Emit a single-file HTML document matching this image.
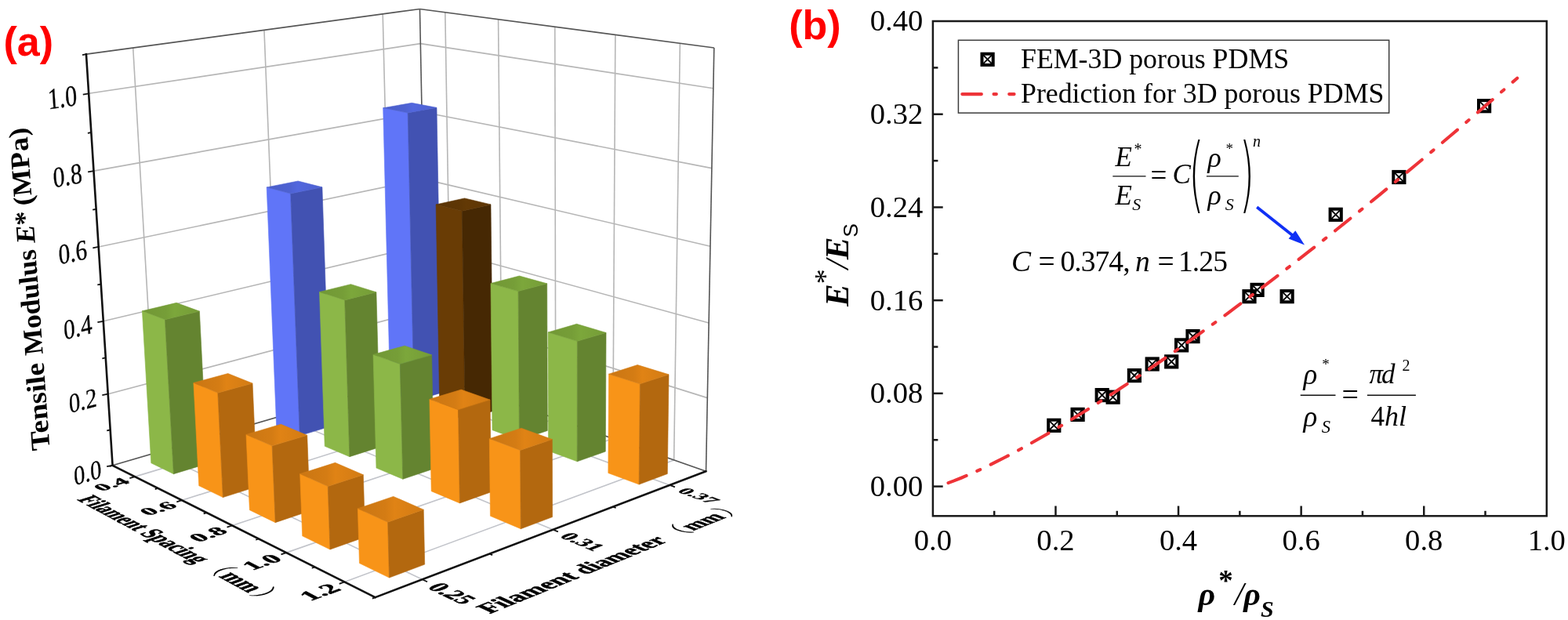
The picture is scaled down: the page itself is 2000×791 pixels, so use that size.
<!DOCTYPE html>
<html lang="en"><head><meta charset="utf-8"><title>Figure</title>
<style>
html,body{margin:0;padding:0;background:#fff;}
body{width:2000px;height:791px;overflow:hidden;}
svg{display:block;}
text{white-space:pre;}
</style></head><body>
<svg width="2000" height="791" viewBox="0 0 2000 791">
<rect width="2000" height="791" fill="#fff"/>
<defs><linearGradient id="g0" gradientUnits="userSpaceOnUse" x1="488.68" y1="0" x2="556.99" y2="0"><stop offset="0" stop-color="#4a5ec9"/><stop offset="0.42" stop-color="#4e62d2"/><stop offset="0.56" stop-color="#5267de"/><stop offset="1" stop-color="#4d61d0"/></linearGradient><linearGradient id="g1" gradientUnits="userSpaceOnUse" x1="556.11" y1="0" x2="625.98" y2="0"><stop offset="0" stop-color="#5a3405"/><stop offset="0.42" stop-color="#5e3605"/><stop offset="0.56" stop-color="#633905"/><stop offset="1" stop-color="#5d3505"/></linearGradient><linearGradient id="g2" gradientUnits="userSpaceOnUse" x1="340.16" y1="0" x2="410.91" y2="0"><stop offset="0" stop-color="#4a5ec9"/><stop offset="0.42" stop-color="#4e62d2"/><stop offset="0.56" stop-color="#5267de"/><stop offset="1" stop-color="#4d61d0"/></linearGradient><linearGradient id="g3" gradientUnits="userSpaceOnUse" x1="625.98" y1="0" x2="697.68" y2="0"><stop offset="0" stop-color="#719735"/><stop offset="0.42" stop-color="#769e38"/><stop offset="0.56" stop-color="#7ca73b"/><stop offset="1" stop-color="#759c37"/></linearGradient><linearGradient id="g4" gradientUnits="userSpaceOnUse" x1="407.51" y1="0" x2="479.91" y2="0"><stop offset="0" stop-color="#719735"/><stop offset="0.42" stop-color="#769e38"/><stop offset="0.56" stop-color="#7ca73b"/><stop offset="1" stop-color="#759c37"/></linearGradient><linearGradient id="g5" gradientUnits="userSpaceOnUse" x1="699.05" y1="0" x2="773.04" y2="0"><stop offset="0" stop-color="#719735"/><stop offset="0.42" stop-color="#769e38"/><stop offset="0.56" stop-color="#7ca73b"/><stop offset="1" stop-color="#759c37"/></linearGradient><linearGradient id="g6" gradientUnits="userSpaceOnUse" x1="181.4" y1="0" x2="254.4" y2="0"><stop offset="0" stop-color="#719735"/><stop offset="0.42" stop-color="#769e38"/><stop offset="0.56" stop-color="#7ca73b"/><stop offset="1" stop-color="#759c37"/></linearGradient><linearGradient id="g7" gradientUnits="userSpaceOnUse" x1="476.05" y1="0" x2="550.65" y2="0"><stop offset="0" stop-color="#719735"/><stop offset="0.42" stop-color="#769e38"/><stop offset="0.56" stop-color="#7ca73b"/><stop offset="1" stop-color="#759c37"/></linearGradient><linearGradient id="g8" gradientUnits="userSpaceOnUse" x1="776.5" y1="0" x2="853.02" y2="0"><stop offset="0" stop-color="#ca7613"/><stop offset="0.42" stop-color="#d47c14"/><stop offset="0.56" stop-color="#e08315"/><stop offset="1" stop-color="#d27b14"/></linearGradient><linearGradient id="g9" gradientUnits="userSpaceOnUse" x1="246.89" y1="0" x2="322.05" y2="0"><stop offset="0" stop-color="#ca7613"/><stop offset="0.42" stop-color="#d47c14"/><stop offset="0.56" stop-color="#e08315"/><stop offset="1" stop-color="#d27b14"/></linearGradient><linearGradient id="g10" gradientUnits="userSpaceOnUse" x1="547.92" y1="0" x2="625.09" y2="0"><stop offset="0" stop-color="#ca7613"/><stop offset="0.42" stop-color="#d47c14"/><stop offset="0.56" stop-color="#e08315"/><stop offset="1" stop-color="#d27b14"/></linearGradient><linearGradient id="g11" gradientUnits="userSpaceOnUse" x1="314.01" y1="0" x2="391.73" y2="0"><stop offset="0" stop-color="#ca7613"/><stop offset="0.42" stop-color="#d47c14"/><stop offset="0.56" stop-color="#e08315"/><stop offset="1" stop-color="#d27b14"/></linearGradient><linearGradient id="g12" gradientUnits="userSpaceOnUse" x1="624.32" y1="0" x2="704.33" y2="0"><stop offset="0" stop-color="#ca7613"/><stop offset="0.42" stop-color="#d47c14"/><stop offset="0.56" stop-color="#e08315"/><stop offset="1" stop-color="#d27b14"/></linearGradient><linearGradient id="g13" gradientUnits="userSpaceOnUse" x1="382.7" y1="0" x2="463.34" y2="0"><stop offset="0" stop-color="#ca7613"/><stop offset="0.42" stop-color="#d47c14"/><stop offset="0.56" stop-color="#e08315"/><stop offset="1" stop-color="#d27b14"/></linearGradient><linearGradient id="g14" gradientUnits="userSpaceOnUse" x1="456.39" y1="0" x2="540.24" y2="0"><stop offset="0" stop-color="#ca7613"/><stop offset="0.42" stop-color="#d47c14"/><stop offset="0.56" stop-color="#e08315"/><stop offset="1" stop-color="#d27b14"/></linearGradient></defs>
<g id="chart-a">
<line x1="199.57" y1="577.4" x2="169.7" y2="61.04" stroke="#b6b6b6" stroke-width="1.6"/>
<line x1="356.85" y1="531.3" x2="336.94" y2="38.35" stroke="#b6b6b6" stroke-width="1.6"/>
<line x1="499.84" y1="489.38" x2="488.2" y2="17.83" stroke="#b6b6b6" stroke-width="1.6"/>
<line x1="575.56" y1="487.1" x2="567.8" y2="15.69" stroke="#b6b6b6" stroke-width="1.6"/>
<line x1="640.15" y1="509.8" x2="635.57" y2="24.63" stroke="#b6b6b6" stroke-width="1.6"/>
<line x1="708.76" y1="533.92" x2="707.77" y2="34.16" stroke="#b6b6b6" stroke-width="1.6"/>
<line x1="781.77" y1="559.58" x2="784.86" y2="44.34" stroke="#b6b6b6" stroke-width="1.6"/>
<line x1="859.62" y1="586.94" x2="867.36" y2="55.23" stroke="#b6b6b6" stroke-width="1.6"/>
<line x1="137.75" y1="502.72" x2="543.05" y2="395.08" stroke="#b6b6b6" stroke-width="1.6"/>
<line x1="543.05" y1="395.08" x2="902.3" y2="507.62" stroke="#b6b6b6" stroke-width="1.6"/>
<line x1="131.79" y1="409.78" x2="541.42" y2="312.47" stroke="#b6b6b6" stroke-width="1.6"/>
<line x1="541.42" y1="312.47" x2="904.13" y2="411.98" stroke="#b6b6b6" stroke-width="1.6"/>
<line x1="125.71" y1="314.94" x2="539.75" y2="228.38" stroke="#b6b6b6" stroke-width="1.6"/>
<line x1="539.75" y1="228.38" x2="905.99" y2="314.33" stroke="#b6b6b6" stroke-width="1.6"/>
<line x1="119.51" y1="218.15" x2="538.06" y2="142.78" stroke="#b6b6b6" stroke-width="1.6"/>
<line x1="538.06" y1="142.78" x2="907.89" y2="214.6" stroke="#b6b6b6" stroke-width="1.6"/>
<line x1="113.17" y1="119.33" x2="536.34" y2="55.6" stroke="#b6b6b6" stroke-width="1.6"/>
<line x1="536.34" y1="55.6" x2="909.84" y2="112.73" stroke="#b6b6b6" stroke-width="1.6"/>
<line x1="172.07" y1="608.13" x2="575.56" y2="487.1" stroke="#c2c4ca" stroke-width="1.6"/>
<line x1="231.98" y1="638.23" x2="640.15" y2="509.8" stroke="#c2c4ca" stroke-width="1.6"/>
<line x1="296.16" y1="670.48" x2="708.76" y2="533.92" stroke="#c2c4ca" stroke-width="1.6"/>
<line x1="365.09" y1="705.12" x2="781.77" y2="559.58" stroke="#c2c4ca" stroke-width="1.6"/>
<line x1="439.31" y1="742.42" x2="859.62" y2="586.94" stroke="#c2c4ca" stroke-width="1.6"/>
<line x1="199.57" y1="577.4" x2="538.67" y2="739.26" stroke="#c2c4ca" stroke-width="1.6"/>
<line x1="356.85" y1="531.3" x2="705.37" y2="675.71" stroke="#c2c4ca" stroke-width="1.6"/>
<line x1="499.84" y1="489.38" x2="854.32" y2="618.92" stroke="#c2c4ca" stroke-width="1.6"/>
<line x1="109.95" y1="69.15" x2="535.46" y2="11.42" stroke="#555555" stroke-width="1.6"/>
<line x1="535.46" y1="11.42" x2="910.82" y2="60.97" stroke="#555555" stroke-width="1.6"/>
<line x1="910.82" y1="60.97" x2="900.51" y2="601.31" stroke="#555555" stroke-width="1.6"/>
<line x1="535.46" y1="11.42" x2="544.66" y2="476.24" stroke="#555555" stroke-width="1.6"/>
<line x1="143.59" y1="593.81" x2="544.66" y2="476.24" stroke="#555555" stroke-width="1.6"/>
<line x1="544.66" y1="476.24" x2="900.51" y2="601.31" stroke="#555555" stroke-width="1.6"/>
<polygon points="497.73,500.3 528.19,511.6 520.23,143.93 488.68,137.73" fill="#6075F8" stroke="#6075F8" stroke-width="0.6" stroke-linejoin="round"/>
<polygon points="528.19,511.6 563.46,500.9 556.99,137.34 520.23,143.93" fill="#4252B2" stroke="#4252B2" stroke-width="0.6" stroke-linejoin="round"/>
<polygon points="488.68,137.73 520.23,143.93 556.99,137.34 525.28,131.31" fill="url(#g0)" stroke="#4E62D2" stroke-width="0.6" stroke-linejoin="round"/>
<polygon points="560.87,523.73 593.25,535.74 589.35,269.22 556.11,260.97" fill="#693C05" stroke="#693C05" stroke-width="0.6" stroke-linejoin="round"/>
<polygon points="593.25,535.74 628.8,524.42 625.98,260.92 589.35,269.22" fill="#462803" stroke="#462803" stroke-width="0.6" stroke-linejoin="round"/>
<polygon points="556.11,260.97 589.35,269.22 625.98,260.92 592.59,252.9" fill="url(#g1)" stroke="#5E3605" stroke-width="0.6" stroke-linejoin="round"/>
<polygon points="352.62,543.33 382.33,555.86 370.68,247.02 340.16,238.94" fill="#6075F8" stroke="#6075F8" stroke-width="0.6" stroke-linejoin="round"/>
<polygon points="382.33,555.86 421.12,544.09 410.91,238.83 370.68,247.02" fill="#4252B2" stroke="#4252B2" stroke-width="0.6" stroke-linejoin="round"/>
<polygon points="340.16,238.94 370.68,247.02 410.91,238.83 380.15,230.98" fill="url(#g2)" stroke="#4E62D2" stroke-width="0.6" stroke-linejoin="round"/>
<polygon points="628,548.64 662.47,561.43 661.13,371.61 625.98,361.55" fill="#8CB748" stroke="#8CB748" stroke-width="0.6" stroke-linejoin="round"/>
<polygon points="662.47,561.43 698.27,549.43 697.68,361.8 661.13,371.61" fill="#648430" stroke="#648430" stroke-width="0.6" stroke-linejoin="round"/>
<polygon points="625.98,361.55 661.13,371.61 697.68,361.8 662.41,352.02" fill="url(#g3)" stroke="#769E38" stroke-width="0.6" stroke-linejoin="round"/>
<polygon points="414.25,569.32 445.92,582.67 439.76,382.91 407.51,372.48" fill="#8CB748" stroke="#8CB748" stroke-width="0.6" stroke-linejoin="round"/>
<polygon points="445.92,582.67 485.14,570.18 479.91,372.76 439.76,382.91" fill="#648430" stroke="#648430" stroke-width="0.6" stroke-linejoin="round"/>
<polygon points="407.51,372.48 439.76,382.91 479.91,372.76 447.43,362.63" fill="url(#g4)" stroke="#769E38" stroke-width="0.6" stroke-linejoin="round"/>
<polygon points="699.51,575.18 736.27,588.82 736.43,435.33 699.05,423.95" fill="#8CB748" stroke="#8CB748" stroke-width="0.6" stroke-linejoin="round"/>
<polygon points="736.27,588.82 772.28,576.07 773.04,424.39 736.43,435.33" fill="#648430" stroke="#648430" stroke-width="0.6" stroke-linejoin="round"/>
<polygon points="699.05,423.95 736.43,435.33 773.04,424.39 735.56,413.34" fill="url(#g5)" stroke="#769E38" stroke-width="0.6" stroke-linejoin="round"/>
<polygon points="192.79,590.74 221.43,604.68 210.48,407.73 181.4,396.71" fill="#8CB748" stroke="#8CB748" stroke-width="0.6" stroke-linejoin="round"/>
<polygon points="221.43,604.68 264.29,591.68 254.4,397.07 210.48,407.73" fill="#648430" stroke="#648430" stroke-width="0.6" stroke-linejoin="round"/>
<polygon points="181.4,396.71 210.48,407.73 254.4,397.07 224.99,386.37" fill="url(#g6)" stroke="#769E38" stroke-width="0.6" stroke-linejoin="round"/>
<polygon points="479.98,597.02 513.8,611.28 510.35,464.37 476.05,452.31" fill="#8CB748" stroke="#8CB748" stroke-width="0.6" stroke-linejoin="round"/>
<polygon points="513.8,611.28 553.42,597.99 550.65,452.85 510.35,464.37" fill="#648430" stroke="#648430" stroke-width="0.6" stroke-linejoin="round"/>
<polygon points="476.05,452.31 510.35,464.37 550.65,452.85 516.15,441.14" fill="url(#g7)" stroke="#769E38" stroke-width="0.6" stroke-linejoin="round"/>
<polygon points="775.82,603.5 815.12,618.08 816.37,489.83 776.5,477.19" fill="#F89418" stroke="#F89418" stroke-width="0.6" stroke-linejoin="round"/>
<polygon points="815.12,618.08 851.29,604.5 853.02,477.81 816.37,489.83" fill="#B3680F" stroke="#B3680F" stroke-width="0.6" stroke-linejoin="round"/>
<polygon points="776.5,477.19 816.37,489.83 853.02,477.81 813.09,465.54" fill="url(#g8)" stroke="#D47C14" stroke-width="0.6" stroke-linejoin="round"/>
<polygon points="253.76,619.68 284.39,634.59 277.85,501.26 246.89,488.38" fill="#F89418" stroke="#F89418" stroke-width="0.6" stroke-linejoin="round"/>
<polygon points="284.39,634.59 327.87,620.74 322.05,489.04 277.85,501.26" fill="#B3680F" stroke="#B3680F" stroke-width="0.6" stroke-linejoin="round"/>
<polygon points="246.89,488.38 277.85,501.26 322.05,489.04 290.77,476.53" fill="url(#g9)" stroke="#D47C14" stroke-width="0.6" stroke-linejoin="round"/>
<polygon points="550.21,626.63 586.41,641.89 584.56,522.77 547.92,509.34" fill="#F89418" stroke="#F89418" stroke-width="0.6" stroke-linejoin="round"/>
<polygon points="586.41,641.89 626.4,627.73 625.09,510.08 584.56,522.77" fill="#B3680F" stroke="#B3680F" stroke-width="0.6" stroke-linejoin="round"/>
<polygon points="547.92,509.34 584.56,522.77 625.09,510.08 588.28,497.05" fill="url(#g10)" stroke="#D47C14" stroke-width="0.6" stroke-linejoin="round"/>
<polygon points="318.38,650.65 351.21,666.63 347.12,568.87 314.01,554.42" fill="#F89418" stroke="#F89418" stroke-width="0.6" stroke-linejoin="round"/>
<polygon points="351.21,666.63 395.3,651.85 391.73,555.31 347.12,568.87" fill="#B3680F" stroke="#B3680F" stroke-width="0.6" stroke-linejoin="round"/>
<polygon points="314.01,554.42 347.12,568.87 391.73,555.31 358.32,541.29" fill="url(#g11)" stroke="#D47C14" stroke-width="0.6" stroke-linejoin="round"/>
<polygon points="625.43,658.33 664.27,674.71 663.57,574.43 624.32,559.64" fill="#F89418" stroke="#F89418" stroke-width="0.6" stroke-linejoin="round"/>
<polygon points="664.27,674.71 704.58,659.58 704.33,560.57 663.57,574.43" fill="#B3680F" stroke="#B3680F" stroke-width="0.6" stroke-linejoin="round"/>
<polygon points="624.32,559.64 663.57,574.43 704.33,560.57 664.93,546.23" fill="url(#g12)" stroke="#D47C14" stroke-width="0.6" stroke-linejoin="round"/>
<polygon points="385.72,683.86 420.99,701.03 418.24,620.5 382.7,604.62" fill="#F89418" stroke="#F89418" stroke-width="0.6" stroke-linejoin="round"/>
<polygon points="420.99,701.03 465.66,685.21 463.34,605.72 418.24,620.5" fill="#B3680F" stroke="#B3680F" stroke-width="0.6" stroke-linejoin="round"/>
<polygon points="382.7,604.62 418.24,620.5 463.34,605.72 427.52,590.33" fill="url(#g13)" stroke="#D47C14" stroke-width="0.6" stroke-linejoin="round"/>
<polygon points="458.48,718.57 496.48,737.07 494.65,666.18 456.39,648.86" fill="#F89418" stroke="#F89418" stroke-width="0.6" stroke-linejoin="round"/>
<polygon points="496.48,737.07 541.69,720.1 540.24,650.15 494.65,666.18" fill="#B3680F" stroke="#B3680F" stroke-width="0.6" stroke-linejoin="round"/>
<polygon points="456.39,648.86 494.65,666.18 540.24,650.15 501.71,633.38" fill="url(#g14)" stroke="#D47C14" stroke-width="0.6" stroke-linejoin="round"/>
<line x1="143.59" y1="593.81" x2="109.95" y2="69.15" stroke="#111" stroke-width="2.6" stroke-linecap="round"/>
<line x1="143.59" y1="593.81" x2="478.6" y2="762.16" stroke="#111" stroke-width="2.6" stroke-linecap="round"/>
<line x1="478.6" y1="762.16" x2="900.51" y2="601.31" stroke="#111" stroke-width="2.6" stroke-linecap="round"/>
<line x1="143.59" y1="593.81" x2="136.21" y2="595.14" stroke="#111" stroke-width="1.8"/>
<line x1="140.68" y1="548.49" x2="136.26" y2="549.29" stroke="#111" stroke-width="1.8"/>
<line x1="137.75" y1="502.72" x2="130.37" y2="504.05" stroke="#111" stroke-width="1.8"/>
<line x1="134.79" y1="456.48" x2="130.36" y2="457.28" stroke="#111" stroke-width="1.8"/>
<line x1="131.79" y1="409.78" x2="124.41" y2="411.11" stroke="#111" stroke-width="1.8"/>
<line x1="128.77" y1="362.6" x2="124.34" y2="363.4" stroke="#111" stroke-width="1.8"/>
<line x1="125.71" y1="314.94" x2="118.33" y2="316.27" stroke="#111" stroke-width="1.8"/>
<line x1="122.62" y1="266.79" x2="118.2" y2="267.59" stroke="#111" stroke-width="1.8"/>
<line x1="119.51" y1="218.15" x2="112.12" y2="219.47" stroke="#111" stroke-width="1.8"/>
<line x1="116.35" y1="169" x2="111.93" y2="169.79" stroke="#111" stroke-width="1.8"/>
<line x1="113.17" y1="119.33" x2="105.79" y2="120.66" stroke="#111" stroke-width="1.8"/>
<line x1="109.95" y1="69.15" x2="105.03" y2="70.03" stroke="#111" stroke-width="1.8"/>
<line x1="143.59" y1="593.81" x2="139.75" y2="594.94" stroke="#111" stroke-width="1.8"/>
<line x1="172.07" y1="608.13" x2="165.37" y2="610.14" stroke="#111" stroke-width="1.8"/>
<line x1="201.52" y1="622.92" x2="197.7" y2="624.1" stroke="#111" stroke-width="1.8"/>
<line x1="231.98" y1="638.23" x2="225.31" y2="640.33" stroke="#111" stroke-width="1.8"/>
<line x1="263.51" y1="654.07" x2="259.7" y2="655.3" stroke="#111" stroke-width="1.8"/>
<line x1="296.16" y1="670.48" x2="289.52" y2="672.68" stroke="#111" stroke-width="1.8"/>
<line x1="330" y1="687.49" x2="326.21" y2="688.77" stroke="#111" stroke-width="1.8"/>
<line x1="365.09" y1="705.12" x2="358.48" y2="707.43" stroke="#111" stroke-width="1.8"/>
<line x1="401.5" y1="723.42" x2="397.74" y2="724.77" stroke="#111" stroke-width="1.8"/>
<line x1="439.31" y1="742.42" x2="432.75" y2="744.85" stroke="#111" stroke-width="1.8"/>
<line x1="478.6" y1="762.16" x2="474.87" y2="763.59" stroke="#111" stroke-width="1.8"/>
<line x1="538.67" y1="739.26" x2="544.99" y2="742.28" stroke="#111" stroke-width="1.8"/>
<line x1="624.43" y1="706.56" x2="628.09" y2="708.19" stroke="#111" stroke-width="1.8"/>
<line x1="705.37" y1="675.71" x2="711.84" y2="678.39" stroke="#111" stroke-width="1.8"/>
<line x1="781.88" y1="646.54" x2="785.61" y2="647.98" stroke="#111" stroke-width="1.8"/>
<line x1="854.32" y1="618.92" x2="860.9" y2="621.32" stroke="#111" stroke-width="1.8"/>
<text transform="translate(4.5,71.3)" font-family="'Liberation Sans','Noto Sans CJK SC',sans-serif" font-size="52" font-weight="bold" font-style="normal" text-anchor="start" fill="#FF0000">(a)</text>
<text transform="matrix(0.8023 -0.2354 0.0657 0.9716 130.1458 609.129)" font-family="'Liberation Serif','Noto Serif CJK SC',serif" font-size="35" font-weight="normal" font-style="normal" text-anchor="end" fill="#000" stroke="#000" stroke-width="0.30" stroke-linejoin="round">0.0</text>
<text transform="matrix(0.8119 -0.2159 0.0671 0.9914 124.1529 517.9115)" font-family="'Liberation Serif','Noto Serif CJK SC',serif" font-size="35" font-weight="normal" font-style="normal" text-anchor="end" fill="#000" stroke="#000" stroke-width="0.30" stroke-linejoin="round">0.2</text>
<text transform="matrix(0.8217 -0.1955 0.0684 1.0117 118.0385 424.8438)" font-family="'Liberation Serif','Noto Serif CJK SC',serif" font-size="35" font-weight="normal" font-style="normal" text-anchor="end" fill="#000" stroke="#000" stroke-width="0.30" stroke-linejoin="round">0.4</text>
<text transform="matrix(0.8317 -0.1741 0.0699 1.0327 111.7988 329.869)" font-family="'Liberation Serif','Noto Serif CJK SC',serif" font-size="35" font-weight="normal" font-style="normal" text-anchor="end" fill="#000" stroke="#000" stroke-width="0.30" stroke-linejoin="round">0.6</text>
<text transform="matrix(0.842 -0.1519 0.0713 1.0543 105.4298 232.9278)" font-family="'Liberation Serif','Noto Serif CJK SC',serif" font-size="35" font-weight="normal" font-style="normal" text-anchor="end" fill="#000" stroke="#000" stroke-width="0.30" stroke-linejoin="round">0.8</text>
<text transform="matrix(0.8526 -0.1287 0.0728 1.0767 98.9277 133.9585)" font-family="'Liberation Serif','Noto Serif CJK SC',serif" font-size="35" font-weight="normal" font-style="normal" text-anchor="end" fill="#000" stroke="#000" stroke-width="0.30" stroke-linejoin="round">1.0</text>
<text transform="matrix(-0.0713 -0.9975 0.9104 -0.112 63.5 573)" font-family="'Liberation Serif','Noto Serif CJK SC',serif" font-size="37.6" font-weight="bold" font-style="normal" text-anchor="start" fill="#000">Tensile</text>
<text transform="matrix(-0.0713 -0.9975 0.9615 -0.1183 54.8128 451.5)" font-family="'Liberation Serif','Noto Serif CJK SC',serif" font-size="35.6" font-weight="bold" font-style="normal" text-anchor="start" fill="#000">Modulus</text>
<text transform="matrix(-0.0713 -0.9975 0.9509 -0.117 44.6669 309.6)" font-family="'Liberation Serif','Noto Serif CJK SC',serif" font-size="36" font-weight="bold" font-style="normal" text-anchor="start" fill="#000"><tspan font-style="italic">E</tspan>*</text>
<text transform="matrix(-0.0713 -0.9975 0.9378 -0.1154 41.192 261)" font-family="'Liberation Serif','Noto Serif CJK SC',serif" font-size="36.5" font-weight="bold" font-style="normal" text-anchor="start" fill="#000">(MPa)</text>
<text transform="matrix(0.8689 -0.261 0.5342 0.2762 167.4858 615.4745)" font-family="'Liberation Serif','Noto Serif CJK SC',serif" font-size="35" font-weight="bold" font-style="normal" text-anchor="end" fill="#000" stroke="#000" stroke-width="0.90" stroke-linejoin="round">0.4</text>
<text transform="matrix(0.8832 -0.2783 0.572 0.2957 227.7243 646.0803)" font-family="'Liberation Serif','Noto Serif CJK SC',serif" font-size="35" font-weight="bold" font-style="normal" text-anchor="end" fill="#000" stroke="#000" stroke-width="0.90" stroke-linejoin="round">0.6</text>
<text transform="matrix(0.8973 -0.2975 0.614 0.3175 292.2952 678.8873)" font-family="'Liberation Serif','Noto Serif CJK SC',serif" font-size="35" font-weight="bold" font-style="normal" text-anchor="end" fill="#000" stroke="#000" stroke-width="0.90" stroke-linejoin="round">0.8</text>
<text transform="matrix(0.9112 -0.3188 0.6608 0.3416 361.6833 714.1418)" font-family="'Liberation Serif','Noto Serif CJK SC',serif" font-size="35" font-weight="bold" font-style="normal" text-anchor="end" fill="#000" stroke="#000" stroke-width="0.90" stroke-linejoin="round">1.0</text>
<text transform="matrix(0.9245 -0.3426 0.7132 0.3687 436.4487 752.1283)" font-family="'Liberation Serif','Noto Serif CJK SC',serif" font-size="35" font-weight="bold" font-style="normal" text-anchor="end" fill="#000" stroke="#000" stroke-width="0.90" stroke-linejoin="round">1.2</text>
<text transform="matrix(0.7542 0.3601 -0.8103 0.3178 543.9421 749.8695)" font-family="'Liberation Serif','Noto Serif CJK SC',serif" font-size="35" font-weight="bold" font-style="normal" text-anchor="start" fill="#000" stroke="#000" stroke-width="0.90" stroke-linejoin="round">0.25</text>
<text transform="matrix(0.7344 0.3043 -0.6686 0.2621 712.5369 684.8738)" font-family="'Liberation Serif','Noto Serif CJK SC',serif" font-size="35" font-weight="bold" font-style="normal" text-anchor="start" fill="#000" stroke="#000" stroke-width="0.90" stroke-linejoin="round">0.31</text>
<text transform="matrix(0.7153 0.2614 -0.5663 0.2219 862.7975 626.9463)" font-family="'Liberation Serif','Noto Serif CJK SC',serif" font-size="35" font-weight="bold" font-style="normal" text-anchor="start" fill="#000" stroke="#000" stroke-width="0.90" stroke-linejoin="round">0.37</text>
<text transform="matrix(0.5552 0.2987 -0.9025 0.2808 97.7915 637.5884)" font-family="'Liberation Serif','Noto Serif CJK SC',serif" font-size="35" font-weight="bold" font-style="normal" text-anchor="start" fill="#000" stroke="#000" stroke-width="0.90" stroke-linejoin="round">Filament</text>
<text transform="matrix(0.6073 0.3267 -0.9219 0.3056 177.181 680.6661)" font-family="'Liberation Serif','Noto Serif CJK SC',serif" font-size="35" font-weight="bold" font-style="normal" text-anchor="start" fill="#000" stroke="#000" stroke-width="0.90" stroke-linejoin="round">Spacing</text>
<text transform="matrix(0.6438 0.3463 -0.9338 0.3228 254.6331 722.6925)" font-family="'Liberation Serif','Noto Serif CJK SC',serif" font-size="35" font-weight="normal" font-style="normal" text-anchor="start" fill="#000" stroke="#000" stroke-width="0.30" stroke-linejoin="round">（</text>
<text transform="matrix(0.6665 0.3585 -0.9406 0.3336 278.128 735.4411)" font-family="'Liberation Serif','Noto Serif CJK SC',serif" font-size="35" font-weight="bold" font-style="normal" text-anchor="start" fill="#000" stroke="#000" stroke-width="0.90" stroke-linejoin="round">mm</text>
<text transform="matrix(0.6904 0.3713 -0.9474 0.3449 319.2881 757.775)" font-family="'Liberation Serif','Noto Serif CJK SC',serif" font-size="35" font-weight="normal" font-style="normal" text-anchor="start" fill="#000" stroke="#000" stroke-width="0.30" stroke-linejoin="round">）</text>
<text transform="matrix(0.8584 -0.3479 0.8219 0.3744 624.6489 783.2528)" font-family="'Liberation Serif','Noto Serif CJK SC',serif" font-size="35" font-weight="bold" font-style="normal" text-anchor="start" fill="#000" stroke="#000" stroke-width="0.90" stroke-linejoin="round">Filament</text>
<text transform="matrix(0.7885 -0.3196 0.829 0.3421 747.1311 733.2908)" font-family="'Liberation Serif','Noto Serif CJK SC',serif" font-size="35" font-weight="bold" font-style="normal" text-anchor="start" fill="#000" stroke="#000" stroke-width="0.90" stroke-linejoin="round">diameter</text>
<text transform="matrix(0.7486 -0.3034 0.8316 0.3237 858.2706 687.9556)" font-family="'Liberation Serif','Noto Serif CJK SC',serif" font-size="35" font-weight="normal" font-style="normal" text-anchor="start" fill="#000" stroke="#000" stroke-width="0.30" stroke-linejoin="round">（</text>
<text transform="matrix(0.7289 -0.2954 0.8324 0.3146 884.3053 677.3358)" font-family="'Liberation Serif','Noto Serif CJK SC',serif" font-size="35" font-weight="bold" font-style="normal" text-anchor="start" fill="#000" stroke="#000" stroke-width="0.90" stroke-linejoin="round">mm</text>
<text transform="matrix(0.7092 -0.2874 0.8329 0.3055 929.3257 658.9714)" font-family="'Liberation Serif','Noto Serif CJK SC',serif" font-size="35" font-weight="normal" font-style="normal" text-anchor="start" fill="#000" stroke="#000" stroke-width="0.30" stroke-linejoin="round">）</text>
</g>
<g id="chart-b">
<rect x="1337.2" y="535.7" width="14.2" height="14.2" fill="none" stroke="#000" stroke-width="4"/>
<path d="M1337.2 535.7 L1351.4 549.9 M1337.2 549.9 L1351.4 535.7" stroke="#000" stroke-width="1.9" fill="none"/>
<rect x="1367.5" y="521.8" width="14.2" height="14.2" fill="none" stroke="#000" stroke-width="4"/>
<path d="M1367.5 521.8 L1381.7 536 M1367.5 536 L1381.7 521.8" stroke="#000" stroke-width="1.9" fill="none"/>
<rect x="1398.6" y="497" width="14.2" height="14.2" fill="none" stroke="#000" stroke-width="4"/>
<path d="M1398.6 497 L1412.8 511.2 M1398.6 511.2 L1412.8 497" stroke="#000" stroke-width="1.9" fill="none"/>
<rect x="1412.5" y="499.6" width="14.2" height="14.2" fill="none" stroke="#000" stroke-width="4"/>
<path d="M1412.5 499.6 L1426.7 513.8 M1412.5 513.8 L1426.7 499.6" stroke="#000" stroke-width="1.9" fill="none"/>
<rect x="1439.8" y="472" width="14.2" height="14.2" fill="none" stroke="#000" stroke-width="4"/>
<path d="M1439.8 472 L1454 486.2 M1439.8 486.2 L1454 472" stroke="#000" stroke-width="1.9" fill="none"/>
<rect x="1462.6" y="457.4" width="14.2" height="14.2" fill="none" stroke="#000" stroke-width="4"/>
<path d="M1462.6 457.4 L1476.8 471.6 M1462.6 471.6 L1476.8 457.4" stroke="#000" stroke-width="1.9" fill="none"/>
<rect x="1487.1" y="454.3" width="14.2" height="14.2" fill="none" stroke="#000" stroke-width="4"/>
<path d="M1487.1 454.3 L1501.3 468.5 M1487.1 468.5 L1501.3 454.3" stroke="#000" stroke-width="1.9" fill="none"/>
<rect x="1500" y="433.3" width="14.2" height="14.2" fill="none" stroke="#000" stroke-width="4"/>
<path d="M1500 433.3 L1514.2 447.5 M1500 447.5 L1514.2 433.3" stroke="#000" stroke-width="1.9" fill="none"/>
<rect x="1514.4" y="422" width="14.2" height="14.2" fill="none" stroke="#000" stroke-width="4"/>
<path d="M1514.4 422 L1528.6 436.2 M1514.4 436.2 L1528.6 422" stroke="#000" stroke-width="1.9" fill="none"/>
<rect x="1586.4" y="371.1" width="14.2" height="14.2" fill="none" stroke="#000" stroke-width="4"/>
<path d="M1586.4 371.1 L1600.6 385.3 M1586.4 385.3 L1600.6 371.1" stroke="#000" stroke-width="1.9" fill="none"/>
<rect x="1596.5" y="362.8" width="14.2" height="14.2" fill="none" stroke="#000" stroke-width="4"/>
<path d="M1596.5 362.8 L1610.7 377 M1596.5 377 L1610.7 362.8" stroke="#000" stroke-width="1.9" fill="none"/>
<rect x="1634.5" y="371.1" width="14.2" height="14.2" fill="none" stroke="#000" stroke-width="4"/>
<path d="M1634.5 371.1 L1648.7 385.3 M1634.5 385.3 L1648.7 371.1" stroke="#000" stroke-width="1.9" fill="none"/>
<rect x="1696.6" y="266.7" width="14.2" height="14.2" fill="none" stroke="#000" stroke-width="4"/>
<path d="M1696.6 266.7 L1710.8 280.9 M1696.6 280.9 L1710.8 266.7" stroke="#000" stroke-width="1.9" fill="none"/>
<rect x="1777.3" y="218.9" width="14.2" height="14.2" fill="none" stroke="#000" stroke-width="4"/>
<path d="M1777.3 218.9 L1791.5 233.1 M1777.3 233.1 L1791.5 218.9" stroke="#000" stroke-width="1.9" fill="none"/>
<rect x="1886" y="128.1" width="14.2" height="14.2" fill="none" stroke="#000" stroke-width="4"/>
<path d="M1886 128.1 L1900.2 142.3 M1886 142.3 L1900.2 128.1" stroke="#000" stroke-width="1.9" fill="none"/>
<path d="M1207.59 616.74 L1216.8 613.39 L1226.01 609.73 L1235.22 605.84 L1244.44 601.74 L1253.65 597.46 L1262.86 593.02 L1272.07 588.45 L1281.28 583.74 L1290.49 578.91 L1299.7 573.97 L1308.91 568.92 L1318.12 563.78 L1327.33 558.54 L1336.54 553.21 L1345.75 547.8 L1354.96 542.31 L1364.17 536.74 L1373.38 531.1 L1382.59 525.38 L1391.8 519.6 L1401.01 513.75 L1410.22 507.84 L1419.43 501.86 L1428.64 495.83 L1437.86 489.73 L1447.07 483.58 L1456.28 477.37 L1465.49 471.11 L1474.7 464.8 L1483.91 458.44 L1493.12 452.02 L1502.33 445.56 L1511.54 439.05 L1520.75 432.49 L1529.96 425.89 L1539.17 419.24 L1548.38 412.55 L1557.59 405.81 L1566.8 399.03 L1576.01 392.22 L1585.22 385.36 L1594.43 378.45 L1603.64 371.52 L1612.85 364.54 L1622.06 357.52 L1631.28 350.47 L1640.49 343.38 L1649.7 336.25 L1658.91 329.09 L1668.12 321.89 L1677.33 314.66 L1686.54 307.39 L1695.75 300.09 L1704.96 292.75 L1714.17 285.39 L1723.38 277.99 L1732.59 270.55 L1741.8 263.09 L1751.01 255.6 L1760.22 248.07 L1769.43 240.52 L1778.64 232.93 L1787.85 225.32 L1797.06 217.67 L1806.27 210 L1815.48 202.29 L1824.7 194.56 L1833.91 186.8 L1843.12 179.02 L1852.33 171.2 L1861.54 163.36 L1870.75 155.49 L1879.96 147.6 L1889.17 139.68 L1898.38 131.73 L1907.59 123.76 L1916.8 115.76 L1926.01 107.73 L1935.22 99.68" fill="none" stroke="#EE3338" stroke-width="4.1" stroke-linecap="round" stroke-dasharray="24.9 14.9 4.4 14.9" stroke-dashoffset="-2"/>
<rect x="1189.9" y="27" width="782.9" height="631.3" fill="none" stroke="#1a1a1a" stroke-width="2.5"/>
<line x1="1268.19" y1="658.3" x2="1268.19" y2="651.8" stroke="#1a1a1a" stroke-width="2.5"/>
<line x1="1346.48" y1="658.3" x2="1346.48" y2="645.5" stroke="#1a1a1a" stroke-width="2.5"/>
<line x1="1424.77" y1="658.3" x2="1424.77" y2="651.8" stroke="#1a1a1a" stroke-width="2.5"/>
<line x1="1503.06" y1="658.3" x2="1503.06" y2="645.5" stroke="#1a1a1a" stroke-width="2.5"/>
<line x1="1581.35" y1="658.3" x2="1581.35" y2="651.8" stroke="#1a1a1a" stroke-width="2.5"/>
<line x1="1659.64" y1="658.3" x2="1659.64" y2="645.5" stroke="#1a1a1a" stroke-width="2.5"/>
<line x1="1737.93" y1="658.3" x2="1737.93" y2="651.8" stroke="#1a1a1a" stroke-width="2.5"/>
<line x1="1816.22" y1="658.3" x2="1816.22" y2="645.5" stroke="#1a1a1a" stroke-width="2.5"/>
<line x1="1894.51" y1="658.3" x2="1894.51" y2="651.8" stroke="#1a1a1a" stroke-width="2.5"/>
<line x1="1189.9" y1="620.6" x2="1202.7" y2="620.6" stroke="#1a1a1a" stroke-width="2.5"/>
<line x1="1189.9" y1="561.24" x2="1196.4" y2="561.24" stroke="#1a1a1a" stroke-width="2.5"/>
<line x1="1189.9" y1="501.88" x2="1202.7" y2="501.88" stroke="#1a1a1a" stroke-width="2.5"/>
<line x1="1189.9" y1="442.52" x2="1196.4" y2="442.52" stroke="#1a1a1a" stroke-width="2.5"/>
<line x1="1189.9" y1="383.16" x2="1202.7" y2="383.16" stroke="#1a1a1a" stroke-width="2.5"/>
<line x1="1189.9" y1="323.8" x2="1196.4" y2="323.8" stroke="#1a1a1a" stroke-width="2.5"/>
<line x1="1189.9" y1="264.44" x2="1202.7" y2="264.44" stroke="#1a1a1a" stroke-width="2.5"/>
<line x1="1189.9" y1="205.08" x2="1196.4" y2="205.08" stroke="#1a1a1a" stroke-width="2.5"/>
<line x1="1189.9" y1="145.72" x2="1202.7" y2="145.72" stroke="#1a1a1a" stroke-width="2.5"/>
<line x1="1189.9" y1="86.36" x2="1196.4" y2="86.36" stroke="#1a1a1a" stroke-width="2.5"/>
<text x="1189.9" y="702.3" font-family="'Liberation Serif','Noto Serif CJK SC',serif" font-size="38.6" font-weight="normal" font-style="normal" text-anchor="middle" fill="#000">0.0</text>
<text x="1346.48" y="702.3" font-family="'Liberation Serif','Noto Serif CJK SC',serif" font-size="38.6" font-weight="normal" font-style="normal" text-anchor="middle" fill="#000">0.2</text>
<text x="1503.06" y="702.3" font-family="'Liberation Serif','Noto Serif CJK SC',serif" font-size="38.6" font-weight="normal" font-style="normal" text-anchor="middle" fill="#000">0.4</text>
<text x="1659.64" y="702.3" font-family="'Liberation Serif','Noto Serif CJK SC',serif" font-size="38.6" font-weight="normal" font-style="normal" text-anchor="middle" fill="#000">0.6</text>
<text x="1816.22" y="702.3" font-family="'Liberation Serif','Noto Serif CJK SC',serif" font-size="38.6" font-weight="normal" font-style="normal" text-anchor="middle" fill="#000">0.8</text>
<text x="1972.8" y="702.3" font-family="'Liberation Serif','Noto Serif CJK SC',serif" font-size="38.6" font-weight="normal" font-style="normal" text-anchor="middle" fill="#000">1.0</text>
<text x="1177.3" y="633" font-family="'Liberation Serif','Noto Serif CJK SC',serif" font-size="38.6" font-weight="normal" font-style="normal" text-anchor="end" fill="#000">0.00</text>
<text x="1177.3" y="514.28" font-family="'Liberation Serif','Noto Serif CJK SC',serif" font-size="38.6" font-weight="normal" font-style="normal" text-anchor="end" fill="#000">0.08</text>
<text x="1177.3" y="395.56" font-family="'Liberation Serif','Noto Serif CJK SC',serif" font-size="38.6" font-weight="normal" font-style="normal" text-anchor="end" fill="#000">0.16</text>
<text x="1177.3" y="276.84" font-family="'Liberation Serif','Noto Serif CJK SC',serif" font-size="38.6" font-weight="normal" font-style="normal" text-anchor="end" fill="#000">0.24</text>
<text x="1177.3" y="158.12" font-family="'Liberation Serif','Noto Serif CJK SC',serif" font-size="38.6" font-weight="normal" font-style="normal" text-anchor="end" fill="#000">0.32</text>
<text x="1177.3" y="39.4" font-family="'Liberation Serif','Noto Serif CJK SC',serif" font-size="38.6" font-weight="normal" font-style="normal" text-anchor="end" fill="#000">0.40</text>
<rect x="1222.4" y="51.3" width="549.3" height="92.8" fill="#fff" stroke="#3c3c3c" stroke-width="1.5"/>
<rect x="1252.5" y="68.7" width="14.2" height="14.2" fill="none" stroke="#000" stroke-width="4"/>
<path d="M1252.5 68.7 L1266.7 82.9 M1252.5 82.9 L1266.7 68.7" stroke="#000" stroke-width="1.9" fill="none"/>
<path d="M1227.3 120.1 H1293.6" fill="none" stroke="#EE3338" stroke-width="4.1" stroke-linecap="round" stroke-dasharray="24.6 15.6 3.4 16.3 6.4 100"/>
<text x="1006.2" y="50.2" font-family="'Liberation Sans','Noto Sans CJK SC',sans-serif" font-size="52" font-weight="bold" font-style="normal" text-anchor="start" fill="#FF0000">(b)</text>
<text x="1302" y="87.2" font-family="'Liberation Serif','Noto Serif CJK SC',serif" font-size="35.8" font-weight="normal" font-style="normal" text-anchor="start" fill="#000">FEM-3D porous PDMS</text>
<text x="1302" y="131.4" font-family="'Liberation Serif','Noto Serif CJK SC',serif" font-size="35.8" font-weight="normal" font-style="normal" text-anchor="start" fill="#000">Prediction for 3D porous PDMS</text>
<text font-family="'Liberation Serif','Noto Serif CJK SC',serif" fill="#000"><tspan x="1422.5" y="211.5" font-size="35" font-style="italic">E</tspan><tspan x="1446.4" y="197" font-size="20">*</tspan><tspan x="1422.5" y="260.6" font-size="35" font-style="italic">E</tspan><tspan x="1444.3" y="268.4" font-size="22" font-style="italic">S</tspan><tspan x="1467.5" y="236.2" font-size="37">=</tspan><tspan x="1495.5" y="234.2" font-size="35" font-style="italic">C</tspan><tspan x="1540.5" y="212.5" font-size="36" font-style="italic">ρ</tspan><tspan x="1563.4" y="196" font-size="19">*</tspan><tspan x="1540.5" y="261" font-size="36" font-style="italic">ρ</tspan><tspan x="1562.8" y="268.4" font-size="22" font-style="italic">S</tspan><tspan x="1598" y="186.8" font-size="20" font-style="italic">n</tspan></text>
<text font-family="'Liberation Serif','Noto Serif CJK SC',serif" fill="#000"><tspan x="1290" y="345.6" font-size="37.5" font-style="italic">C </tspan><tspan x="1324.5" y="345.6" font-size="37.5">= </tspan><tspan x="1352.5" y="345.6" font-size="37.5" letter-spacing="-0.95">0.374, </tspan><tspan x="1448" y="345.6" font-size="37.5" font-style="italic">n </tspan><tspan x="1476.5" y="345.6" font-size="37.5">= </tspan><tspan x="1503" y="345.6" font-size="37.5" letter-spacing="-0.9">1.25</tspan></text>
<text font-family="'Liberation Serif','Noto Serif CJK SC',serif" fill="#000"><tspan x="1662.5" y="490" font-size="37" font-style="italic">ρ</tspan><tspan x="1686.3" y="470.5" font-size="19">*</tspan><tspan x="1662.5" y="543.5" font-size="37" font-style="italic">ρ</tspan><tspan x="1685.8" y="551.7" font-size="22.5" font-style="italic">S</tspan><tspan x="1711.5" y="516.3" font-size="38">=</tspan><tspan x="1746.5" y="489.3" font-size="35" font-style="italic">π</tspan><tspan x="1762" y="489.3" font-size="35" font-style="italic">d</tspan><tspan x="1788.5" y="473.3" font-size="20">2</tspan><tspan x="1748.5" y="543" font-size="35">4</tspan><tspan x="1766" y="543" font-size="36" font-style="italic">hl</tspan></text>
<text transform="translate(1516.15,257.95) scale(1.500,3.168)" font-family="'DejaVu Sans',sans-serif" font-size="33" font-weight="200" font-style="normal" text-anchor="start" fill="#000">(</text>
<text transform="translate(1580.77,257.95) scale(1.500,3.168)" font-family="'DejaVu Sans',sans-serif" font-size="33" font-weight="200" font-style="normal" text-anchor="start" fill="#000">)</text>
<text x="1528.5" y="771.7" font-family="'Liberation Serif','Noto Serif CJK SC',serif" font-size="42" font-weight="normal" font-style="normal" text-anchor="start" fill="#000"><tspan font-style="italic" font-weight="bold">ρ</tspan><tspan font-weight="bold" font-size="37" dy="-19" dx="4">*</tspan><tspan font-style="italic" dy="19" dx="2">/</tspan><tspan font-style="italic" font-weight="bold">ρ</tspan><tspan font-style="italic" font-weight="bold" font-size="30" dy="15">S</tspan></text>
<text transform="translate(1082,391) rotate(-90)" font-family="'Liberation Serif','Noto Serif CJK SC',serif" font-size="43" font-weight="normal" font-style="normal" text-anchor="start" fill="#000"><tspan font-style="italic" font-weight="bold">E</tspan><tspan font-size="38" dy="-17">*</tspan><tspan font-style="italic" dy="17">/</tspan><tspan font-style="italic" font-weight="bold">E</tspan><tspan font-family="'Liberation Sans',sans-serif" font-size="26.5" dy="12">S</tspan></text>
<path d="M1419.3 224.9H1461.5M1538.9 224.9H1579.8M1658.7 504.2H1703.5M1743.9 504.2H1805.9" stroke="#111" stroke-width="1.4" fill="none"/>
<path d="M1603.2 264.2L1650.5 301.8" stroke="#1030F5" stroke-width="3.7" fill="none"/>
<polygon points="1664,312.4 1643.6,304.6 1652.3,294.2" fill="#1030F5"/>
</g>
</svg>
</body></html>
